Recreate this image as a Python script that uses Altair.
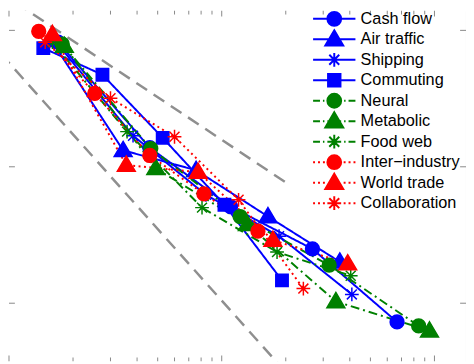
import altair as alt
import pandas as pd

# ---------------- data ----------------
series_names = ["Cash flow", "Air traffic", "Shipping", "Commuting",
                "Neural", "Metabolic", "Food web",
                "Inter\u2212industry", "World trade", "Collaboration"]
series_colors = ["#0000ff"] * 4 + ["#008000"] * 3 + ["#ff0000"] * 3
series_markers = ["circle", "triangle", "asterisk", "square",
                  "circle", "triangle", "asterisk",
                  "circle", "triangle", "asterisk"]
series_styles = ["solid"] * 4 + ["dashdot"] * 3 + ["dotted"] * 3

cash_flow_x = [1.70, 4.59, 11.0, 26.7, 66.7]
cash_flow_y = [81.9, 13.8, 5.10, 2.50, 0.729]
air_traffic_x = [1.58, 3.44, 7.58, 16.5, 35.9]
air_traffic_y = [84.7, 13.2, 9.43, 4.32, 2.01]
shipping_x = [1.74, 3.83, 8.43, 18.6, 40.9]
shipping_y = [75.4, 16.9, 6.23, 3.10, 1.16]
commuting_x = [1.45, 2.75, 5.28, 10.3, 19.2]
commuting_y = [74.1, 47.3, 16.3, 5.27, 1.47]
neural_x = [1.78, 4.64, 12.2, 32.0, 84.3]
neural_y = [79.2, 13.6, 4.32, 1.90, 0.682]
metabolic_x = [1.82, 4.90, 13.2, 34.4, 94.8]
metabolic_y = [76.6, 9.75, 3.78, 1.03, 0.628]
food_web_x = [1.60, 3.59, 8.08, 18.2, 40.4]
food_web_y = [81.9, 18.1, 5.02, 2.37, 1.59]
inter_industry_x = [1.38, 2.53, 4.59, 8.25, 14.8]
inter_industry_y = [98.4, 34.5, 12.1, 6.33, 3.37]
world_trade_x = [1.60, 3.56, 7.74, 17.4, 39.1]
world_trade_y = [93.6, 10.3, 9.13, 2.90, 1.95]
collaboration_x = [1.48, 3.00, 6.00, 12.0, 24.2]
collaboration_y = [81.9, 31.8, 16.6, 5.73, 1.28]

all_x = [cash_flow_x, air_traffic_x, shipping_x, commuting_x, neural_x,
         metabolic_x, food_web_x, inter_industry_x, world_trade_x, collaboration_x]
all_y = [cash_flow_y, air_traffic_y, shipping_y, commuting_y, neural_y,
         metabolic_y, food_web_y, inter_industry_y, world_trade_y, collaboration_y]

# grey dashed reference lines (end points)
guide_id = ["upper", "upper", "lower", "lower"]
guide_x = [1.077, 20.2, 0.918, 20.2]
guide_y = [159.3, 7.60, 67.1, 0.307]

x_major_ticks = [1, 10, 100]
x_minor_ticks = [2, 3, 4, 5, 6, 7, 8, 9, 20, 30, 40, 50, 60, 70, 80, 90]
y_major_ticks = [1, 10, 100]

x_domain = [1, 140.7]
y_domain = [0.375, 139.4]

# ---------------- styling ----------------
W, H = 464, 356
marker_paths = {
    "circle": "M1,0A1,1 0 1,1 -1,0A1,1 0 1,1 1,0Z",
    "triangle": "M0,-1.3L1.3,0.9L-1.3,0.9Z",
    "square": "M-0.9,-0.9H0.9V0.9H-0.9Z",
    "asterisk": "M0,-1V1M-1,0H1M-0.72,-0.72L0.72,0.72M-0.72,0.72L0.72,-0.72",
}
stub_paths = {
    "solid": "M-3.07,0H3.07",
    "dashdot": "M-3.07,0H-2.07M-1.64,0H-1.43M-1,0H1M1.43,0H1.64M2.07,0H3.07",
    "dotted": "M-3.07,0H-2.79M-2.36,0H-2.07M-1.64,0H-1.36M1.36,0H1.64M2.07,0H2.36M2.79,0H3.07",
}
dash_patterns = {"solid": [1, 0], "dashdot": [9, 4, 2, 4], "dotted": [2, 3.5]}

marker_types = ["circle", "triangle", "asterisk", "square"]
legend_paths = [stub_paths[s] + marker_paths[m] for s, m in zip(series_styles, series_markers)]

rows = []
for name, marker, xs, ys in zip(series_names, series_markers, all_x, all_y):
    for i, (xv, yv) in enumerate(zip(xs, ys)):
        rows.append({"series": name, "marker": marker, "idx": i, "x": xv, "y": yv})
df = pd.DataFrame(rows)
guides = pd.DataFrame({"g": guide_id, "x": guide_x, "y": guide_y})

xscale = alt.Scale(type="log", domain=x_domain, nice=False)
yscale = alt.Scale(type="log", domain=y_domain, nice=False)
yaxis = alt.Axis(orient="right", labels=False, ticks=False, grid=False, domain=True,
                 domainColor="#777777", domainWidth=1, title="")

color_scale = alt.Scale(domain=series_names, range=series_colors)
dash_scale = alt.Scale(domain=series_names, range=[dash_patterns[s] for s in series_styles])

X = alt.X("x:Q", scale=xscale, axis=None)
Y = alt.Y("y:Q", scale=yscale, axis=yaxis)

guide_layer = alt.Chart(guides).mark_line(
    color="#8f8f8f", strokeWidth=2.5, strokeDash=[13, 8], clip=True
).encode(x=X, y=Y, detail="g:N")

line_layer = alt.Chart(df).mark_line(strokeWidth=2, clip=True).encode(
    x=X, y=Y,
    stroke=alt.Stroke("series:N", scale=color_scale, legend=None),
    strokeDash=alt.StrokeDash("series:N", scale=dash_scale, legend=None),
    order=alt.Order("idx:Q"),
)

point_layer = alt.Chart(df).mark_point(
    filled=True, size=196, opacity=1, strokeWidth=1.5, clip=True
).encode(
    x=X, y=Y,
    shape=alt.Shape("marker:N", scale=alt.Scale(domain=marker_types,
                                                range=[marker_paths[m] for m in marker_types]),
                    legend=None),
    fill=alt.Fill("series:N", scale=color_scale, legend=None),
    stroke=alt.Stroke("series:N", scale=color_scale, legend=None),
)

leg = alt.Legend(orient="none", legendX=322, legendY=0, title=None,
                 labelFont="Liberation Sans", labelFontSize=16.5, labelColor="#000000",
                 labelOffset=18.5, symbolStrokeWidth=2, symbolSize=196,
                 rowPadding=-4.2, gridAlign="all", padding=0, labelLimit=300)

legend_layer = alt.Chart(df).transform_filter("false").mark_point(
    filled=True, size=196, opacity=1, strokeWidth=2
).encode(
    shape=alt.Shape("series:N", scale=alt.Scale(domain=series_names, range=legend_paths), legend=leg),
    fill=alt.Fill("series:N", scale=color_scale, legend=leg),
    stroke=alt.Stroke("series:N", scale=color_scale, legend=leg),
)

tick_color = "#555555"
xt_major = pd.DataFrame({"x": x_major_ticks})
xt_minor = pd.DataFrame({"x": x_minor_ticks})
yt_major = pd.DataFrame({"y": y_major_ticks})

top_major = alt.Chart(xt_major).mark_tick(orient="vertical", size=6, thickness=1, color=tick_color).encode(
    x=X, y=alt.value(3))
top_minor = alt.Chart(xt_minor).mark_tick(orient="vertical", size=4, thickness=1, color=tick_color).encode(
    x=X, y=alt.value(2))
bot_major = alt.Chart(xt_major).mark_tick(orient="vertical", size=6, thickness=1, color=tick_color).encode(
    x=X, y=alt.value(H - 3))
bot_minor = alt.Chart(xt_minor).mark_tick(orient="vertical", size=4, thickness=1, color=tick_color).encode(
    x=X, y=alt.value(H - 2))
left_major = alt.Chart(yt_major).mark_tick(orient="horizontal", size=6, thickness=1, color=tick_color).encode(
    y=Y, x=alt.value(3))
right_major = alt.Chart(yt_major).mark_tick(orient="horizontal", size=6, thickness=1, color=tick_color).encode(
    y=Y, x=alt.value(W - 3))

chart = alt.layer(
    guide_layer, line_layer, point_layer, legend_layer,
    top_major, top_minor, bot_major, bot_minor, left_major, right_major
).resolve_scale(
    shape="independent", fill="independent", stroke="independent", strokeDash="independent"
).properties(
    width=W, height=H, padding=0
).configure_view(strokeWidth=0)

chart.save("out.html", embed_options={"renderer": "svg", "actions": False})
